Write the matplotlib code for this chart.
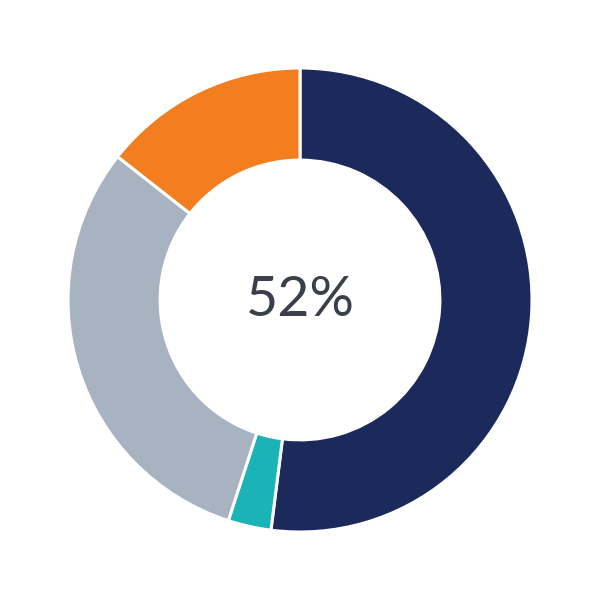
import matplotlib
matplotlib.use("Agg")
import matplotlib.pyplot as plt

categories = ["A", "B", "C", "D"]
values = [52, 3, 30.6, 14.4]
colors = ["#1b2a5a", "#1ab3b6", "#a8b3c2", "#f27e20"]
center_label = "52%"

fig = plt.figure(figsize=(6, 6), dpi=100)
ax = fig.add_axes([0, 0, 1, 1])
ax.pie(values, colors=colors, startangle=90, counterclock=False, radius=1.0,
       wedgeprops=dict(width=0.397, edgecolor="white", linewidth=2.2))
L = 300 / 232
ax.set_xlim(-L, L)
ax.set_ylim(-L, L)
ax.set_aspect("equal")
ax.axis("off")
ax.text(0, 0, center_label, ha="center", va="center", fontsize=40,
        family=["Lato", "DejaVu Sans"], color="#3a3f4a")
fig.savefig("out.png", dpi=100)
